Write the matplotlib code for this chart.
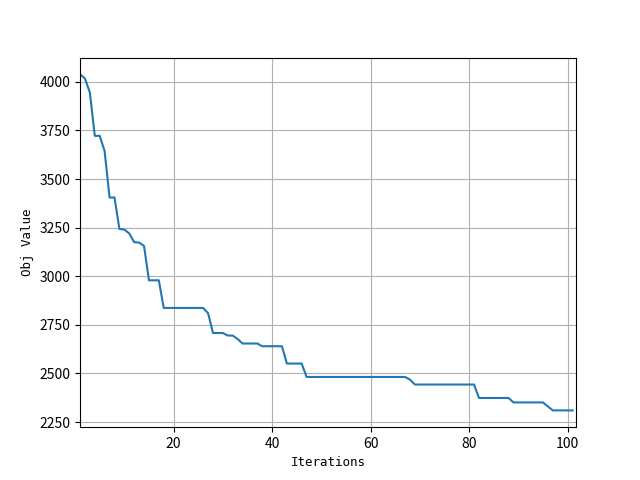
import numpy as np
import matplotlib
matplotlib.use("Agg")
import matplotlib.pyplot as plt

plt.rcParams['font.family'] = ['Noto Sans CJK SC', 'DejaVu Sans']

# objective value per iteration
iterations = list(range(1, 102))
obj_values = ([4038, 4017, 3945, 3722, 3722, 3643, 3405, 3405, 3243, 3240,
               3220, 3175, 3173, 3156, 2979, 2979, 2979]
              + [2837] * 9
              + [2810]
              + [2708] * 3
              + [2695] * 2
              + [2677]
              + [2654] * 4
              + [2640] * 5
              + [2551] * 4
              + [2482] * 21
              + [2468]
              + [2443] * 13
              + [2374] * 7
              + [2351] * 7
              + [2330]
              + [2310] * 5)

fig = plt.figure(figsize=(6.4, 4.8), dpi=100)
ax = plt.gca()
ax.plot(iterations, obj_values)
ax.set_xlim(1, 101.7)
ax.set_xlabel("Iterations", family='DejaVu Sans Mono', fontsize=9)
ax.set_ylabel("Obj Value", family='DejaVu Sans Mono', fontsize=9)
ax.grid(True)

fig.savefig("out.png", dpi=100)
